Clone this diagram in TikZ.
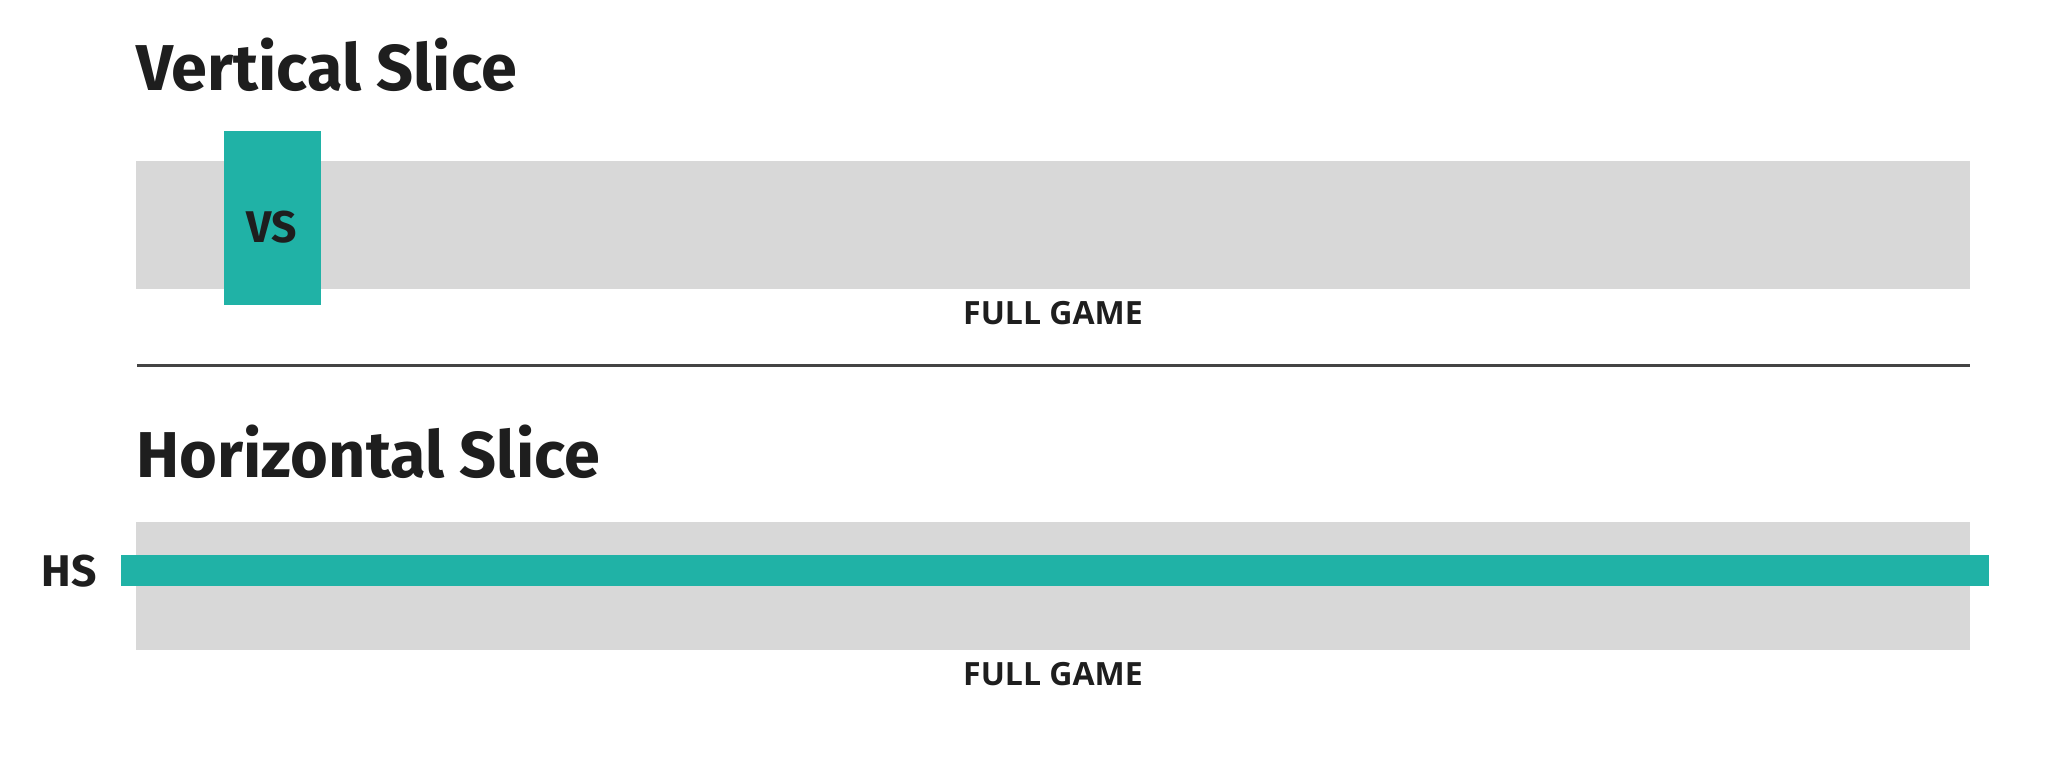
\documentclass[tikz,border=0pt]{standalone}
\usepackage{fontspec}
\setmainfont{Fira Sans}
\newfontfamily\titlefont{Fira Sans}
\newfontfamily\labelfont{Open Sans}
\definecolor{bargray}{HTML}{D8D8D8}
\definecolor{teal}{HTML}{20B2A6}
\definecolor{ink}{HTML}{1E1E1E}
\definecolor{rule}{HTML}{444444}
\tikzset{
  titletext/.style={anchor=base west, inner sep=0pt, text=ink, font=\titlefont\bfseries\fontsize{32.4pt}{36pt}\selectfont},
  slicetext/.style={anchor=base, inner sep=0pt, text=ink, font=\titlefont\bfseries\fontsize{22.2pt}{24pt}\selectfont},
  gametext/.style={anchor=base, inner sep=0pt, text=ink, font=\labelfont\bfseries\fontsize{16pt}{18pt}\selectfont},
}
\begin{document}
\begin{tikzpicture}[x=0.5pt,y=-0.5pt]
\useasboundingbox[fill=white] (0,0) rectangle (2048,757);
% Vertical slice
\node[titletext] (t1) at (136,90) {Vertical Slice};
\fill[bargray] (136,161) rectangle (1970,289);
\fill[teal] (224,131) rectangle (321,305);
\node[slicetext] (vs) at (272,242) {VS};
\node[gametext] (fg1) at (1053,324) {FULL GAME};
% divider
\coordinate (d1) at (137,365);
\coordinate (d2) at (1970,365);
\draw[rule, line width=1.5pt] (d1) -- (d2);
% Horizontal slice
\node[titletext] (t2) at (136,477) {Horizontal Slice};
\fill[bargray] (136,522) rectangle (1970,650);
\fill[teal] (121,555) rectangle (1989,586);
\node[slicetext] (hs) at (69,586) {HS};
\node[gametext] (fg2) at (1053,685) {FULL GAME};
\end{tikzpicture}
\end{document}
